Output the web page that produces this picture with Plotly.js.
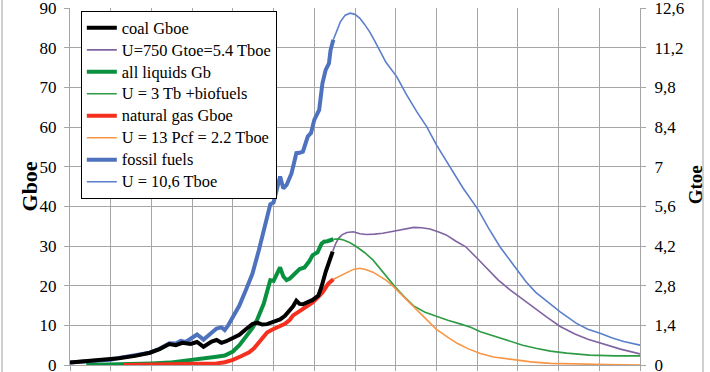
<!DOCTYPE html>
<html>
<head>
<meta charset="utf-8">
<script src="https://cdn.plot.ly/plotly-3.0.1.min.js"></script>
<style>
  html, body { margin: 0; padding: 0; background: #fff; }
  #chart { width: 710px; height: 372px; }
</style>
</head>
<body>
<div id="chart"></div>
<script>
// ---- Data ----
// Historical production (thick lines), Gboe
const coalYears = [1850, 1860, 1870, 1875, 1880, 1890, 1899, 1905, 1911, 1915, 1919, 1924, 1928, 1932, 1937, 1940, 1943, 1946, 1950, 1954, 1958, 1962, 1965, 1968, 1971, 1975, 1979, 1982, 1985, 1987, 1989, 1991, 1993, 1997, 1999, 2002.5, 2004.5, 2007, 2009, 2011.3];
const coalValues = [0.6, 0.9, 1.2, 1.3, 1.7, 2.3, 3.1, 4.0, 5.3, 5.0, 5.6, 5.3, 5.8, 4.6, 5.9, 6.3, 5.6, 6.0, 6.8, 7.6, 9.0, 10.3, 10.7, 10.2, 10.3, 10.8, 11.5, 12.4, 13.8, 14.8, 16.2, 15.4, 15.3, 16.2, 16.4, 17.5, 19.8, 23.5, 25.6, 28.6];

const liquidsYears = [1860, 1870, 1880, 1890, 1900, 1911, 1920, 1926, 1932, 1940, 1945, 1950, 1954, 1958, 1962, 1965, 1969, 1971, 1973, 1975, 1977, 1979, 1981, 1983, 1985, 1988, 1991, 1994, 1997, 1999, 2002, 2004.5, 2006, 2008, 2011.7];
const liquidsValues = [0, 0.05, 0.1, 0.2, 0.4, 0.6, 1.0, 1.3, 1.5, 2.1, 2.4, 3.4, 5.0, 7.1, 9.3, 11.5, 15.5, 18.5, 21.4, 21.2, 23.0, 24.6, 22.3, 21.4, 21.8, 23.0, 24.2, 24.6, 26.2, 27.7, 28.4, 30.6, 31.1, 31.2, 31.7];

const gasYears = [1883, 1900, 1920, 1930, 1940, 1945, 1950, 1955, 1960, 1963, 1966, 1969, 1971, 1974, 1977, 1979, 1982, 1985, 1987, 1991, 1995, 1999, 2002.5, 2005, 2008.6, 2011.7];
const gasValues = [0, 0.05, 0.15, 0.25, 0.4, 0.7, 1.3, 2.2, 3.2, 4.2, 5.7, 7.2, 8.2, 8.9, 9.5, 9.9, 10.4, 11.4, 12.5, 13.6, 14.8, 15.8, 17.2, 18.3, 20.5, 21.6];

const fossilYears = [1850, 1860, 1870, 1875, 1880, 1890, 1899, 1905, 1911, 1915, 1918, 1921, 1924, 1928, 1932, 1936, 1940, 1943, 1945, 1947, 1950, 1954, 1958, 1962, 1966, 1970, 1973, 1975, 1979, 1981, 1983, 1986, 1989, 1991, 1993, 1996, 1998, 2000, 2003, 2005, 2007, 2009, 2010, 2011.7];
const fossilValues = [0.6, 0.9, 1.2, 1.3, 1.8, 2.4, 3.1, 4.1, 5.5, 5.4, 6.1, 5.8, 6.6, 7.7, 6.4, 7.9, 9.2, 9.5, 8.8, 9.9, 12.2, 15.0, 18.9, 23.0, 29.0, 35.5, 40.5, 41.0, 47.5, 44.5, 45.4, 48.3, 53.4, 53.5, 53.8, 57.6, 58.5, 61.8, 64.3, 71.0, 74.4, 76.0, 79.4, 82.0];

// Forecasts (thin lines), Gboe
const coalFcYears = [2011.3, 2013, 2015, 2017, 2020, 2024, 2028, 2032, 2037, 2042, 2047, 2052, 2057, 2061, 2066, 2071, 2076, 2081, 2087, 2093, 2100, 2106, 2113, 2120, 2127, 2135, 2143, 2151, 2160, 2168, 2176, 2188, 2200];
const coalFcValues = [28.6, 30.5, 32.0, 32.8, 33.4, 33.6, 33.1, 32.9, 33.0, 33.2, 33.6, 34.0, 34.5, 34.7, 34.6, 34.3, 33.6, 32.8, 31.2, 29.8, 26.9, 24.3, 21.4, 19.0, 16.8, 14.5, 12.0, 9.7, 7.8, 6.5, 5.5, 4.0, 2.8];

const liquidsFcYears = [2011.7, 2015, 2018, 2022, 2026, 2031, 2036, 2043, 2049.6, 2055, 2061, 2068, 2075, 2082, 2090, 2096, 2102, 2108, 2114, 2121, 2128, 2136, 2145, 2155, 2169, 2185, 2200];
const liquidsFcValues = [31.7, 31.8, 31.5, 30.8, 29.8, 28.3, 26.5, 23.0, 19.7, 17.3, 14.9, 13.3, 12.2, 11.3, 10.3, 9.5, 8.4, 7.6, 6.7, 5.8, 5.0, 4.2, 3.5, 3.0, 2.5, 2.3, 2.3];

const gasFcYears = [2011.7, 2015, 2020, 2024, 2028, 2032, 2036, 2040, 2044, 2048, 2052.6, 2058, 2065, 2071, 2075, 2083, 2088, 2095, 2102, 2110, 2117, 2124, 2133, 2145, 2160, 2180, 2200];
const gasFcValues = [21.6, 22.3, 23.4, 24.1, 24.4, 24.0, 23.4, 22.5, 21.4, 20.0, 18.1, 15.8, 13.0, 10.5, 9.0, 6.7, 5.4, 4.0, 2.9, 2.0, 1.6, 1.2, 0.8, 0.4, 0.2, 0.1, 0];

const fossilFcYears = [2011.7, 2014, 2016, 2019, 2022, 2025, 2028, 2031, 2034, 2037, 2040, 2044, 2050.6, 2056.7, 2063, 2069, 2075, 2083, 2091.5, 2100.7, 2107, 2114, 2120, 2125, 2130, 2136, 2141.6, 2151, 2161, 2168, 2175.5, 2183, 2190, 2200];
const fossilFcValues = [82.0, 84.5, 86.5, 88.2, 88.7, 88.4, 87.4, 85.8, 84.0, 81.8, 79.4, 76.3, 72.7, 68.1, 63.8, 60.1, 55.5, 50.0, 44.5, 39.1, 34.5, 29.8, 26.5, 23.9, 21.0, 18.3, 16.4, 13.4, 10.5, 9.0, 8.0, 6.8, 5.9, 5.0];

// Legend labels, axis titles and right-axis tick labels
const seriesNames = ['coal Gboe', 'U=750 Gtoe=5.4 Tboe', 'all liquids Gb', 'U = 3 Tb +biofuels',
                     'natural gas Gboe', 'U = 13 Pcf = 2.2 Tboe', 'fossil fuels', 'U = 10,6 Tboe'];
const leftTitle = 'Gboe';
const rightTitle = 'Gtoe';
const gtoeTickVals = [0, 1.4, 2.8, 4.2, 5.6, 7, 8.4, 9.8, 11.2, 12.6];
const gtoeTickText = ['0', '1,4', '2,8', '4,2', '5,6', '7', '8,4', '9,8', '11,2', '12,6'];

// ---- Styles ----
const FONT = 'Liberation Serif';
const THICK = 4, THIN = 1.6;
const C = {
  coal: '#000000', coalFc: '#8064A2',
  liq: '#0A9140', liqFc: '#2E9B45',
  gas: '#F5301E', gasFc: '#F79646',
  fos: '#4F72BE', fosFc: '#5B7FCB'
};

function label(s) { return '<span style="font-size:16.4px">' + s + '</span>'; }

function tr(x, y, name, color, width, rank) {
  return { x: x, y: y, name: label(name), type: 'scatter', mode: 'lines',
           line: { color: color, width: width, shape: 'linear' },
           legendrank: rank, hoverinfo: 'skip' };
}

const data = [
  tr(fossilYears, fossilValues, seriesNames[6], C.fos, THICK, 7),
  tr(fossilFcYears, fossilFcValues, seriesNames[7], C.fosFc, THIN, 8),
  tr(coalFcYears, coalFcValues, seriesNames[1], C.coalFc, THIN, 2),
  tr(liquidsFcYears, liquidsFcValues, seriesNames[3], C.liqFc, THIN, 4),
  tr(gasFcYears, gasFcValues, seriesNames[5], C.gasFc, THIN, 6),
  tr(liquidsYears, liquidsValues, seriesNames[2], C.liq, THICK, 3),
  tr(gasYears, gasValues, seriesNames[4], C.gas, THICK, 5),
  tr(coalYears, coalValues, seriesNames[0], C.coal, THICK, 1),
  // invisible trace carrying the right (Gtoe) axis
  { x: [1850, 2200], y: [0, 12.6], yaxis: 'y2', type: 'scatter', mode: 'lines',
    line: { width: 0, color: 'rgba(0,0,0,0)' }, showlegend: false, hoverinfo: 'skip' }
];

const GRID = '#A6A6A6';
const layout = {
  width: 710, height: 372,
  margin: { l: 70, r: 70, t: 8, b: 7, pad: 0 },
  paper_bgcolor: '#ffffff', plot_bgcolor: '#ffffff',
  font: { family: FONT, size: 17, color: '#000' },
  showlegend: true,
  legend: {
    x: 0.019, y: 0.992, xanchor: 'left', yanchor: 'top',
    bgcolor: '#ffffff', bordercolor: '#000000', borderwidth: 1,
    font: { family: FONT, size: 14.6, color: '#000' },
    tracegroupgap: 0, traceorder: 'normal', itemwidth: 30
  },
  xaxis: {
    range: [1850, 2200], dtick: 25, tick0: 1850,
    showgrid: true, gridcolor: GRID, gridwidth: 1,
    showline: true, linecolor: GRID, linewidth: 1,
    ticks: 'outside', ticklen: 5, tickcolor: GRID,
    showticklabels: false, zeroline: false, fixedrange: true
  },
  yaxis: {
    range: [0, 90], dtick: 10, tick0: 0,
    showgrid: true, gridcolor: GRID, gridwidth: 1,
    showline: true, linecolor: GRID, linewidth: 1,
    ticks: 'outside', ticklen: 5, tickcolor: GRID,
    tickfont: { family: FONT, size: 17, color: '#000' },
    ticklabeloverflow: 'allow', ticklabelstandoff: 4,
    zeroline: false, automargin: false
  },
  yaxis2: {
    overlaying: 'y', side: 'right', range: [0, 12.6],
    tickmode: 'array', tickvals: gtoeTickVals, ticktext: gtoeTickText,
    showgrid: false, showline: true, linecolor: GRID, linewidth: 1,
    ticks: 'outside', ticklen: 5, tickcolor: GRID,
    tickfont: { family: FONT, size: 17, color: '#000' },
    ticklabeloverflow: 'allow', ticklabelstandoff: 5,
    zeroline: false, automargin: false
  },
  annotations: [
    { text: leftTitle, xref: 'paper', yref: 'paper', x: -0.0702, y: 0.5,
      xanchor: 'center', yanchor: 'middle', textangle: -90, showarrow: false,
      font: { family: FONT, size: 22, color: '#000', weight: 'bold' } },
    { text: rightTitle, xref: 'paper', yref: 'paper', x: 1.0974, y: 0.505,
      xanchor: 'center', yanchor: 'middle', textangle: -90, showarrow: false,
      font: { family: FONT, size: 19, color: '#000', weight: 'bold' } }
  ],
  shapes: [
    { type: 'line', xref: 'paper', yref: 'paper', x0: -0.1193, x1: -0.1193, y0: -0.1, y1: 1.1,
      line: { color: '#A0A0A0', width: 1 } },
    { type: 'line', xref: 'paper', yref: 'paper', x0: 1.1105, x1: 1.1105, y0: -0.1, y1: 1.1,
      line: { color: '#A0A0A0', width: 1 } }
  ]
};

Plotly.newPlot('chart', data, layout, { staticPlot: true, displayModeBar: false });
</script>
</body>
</html>
